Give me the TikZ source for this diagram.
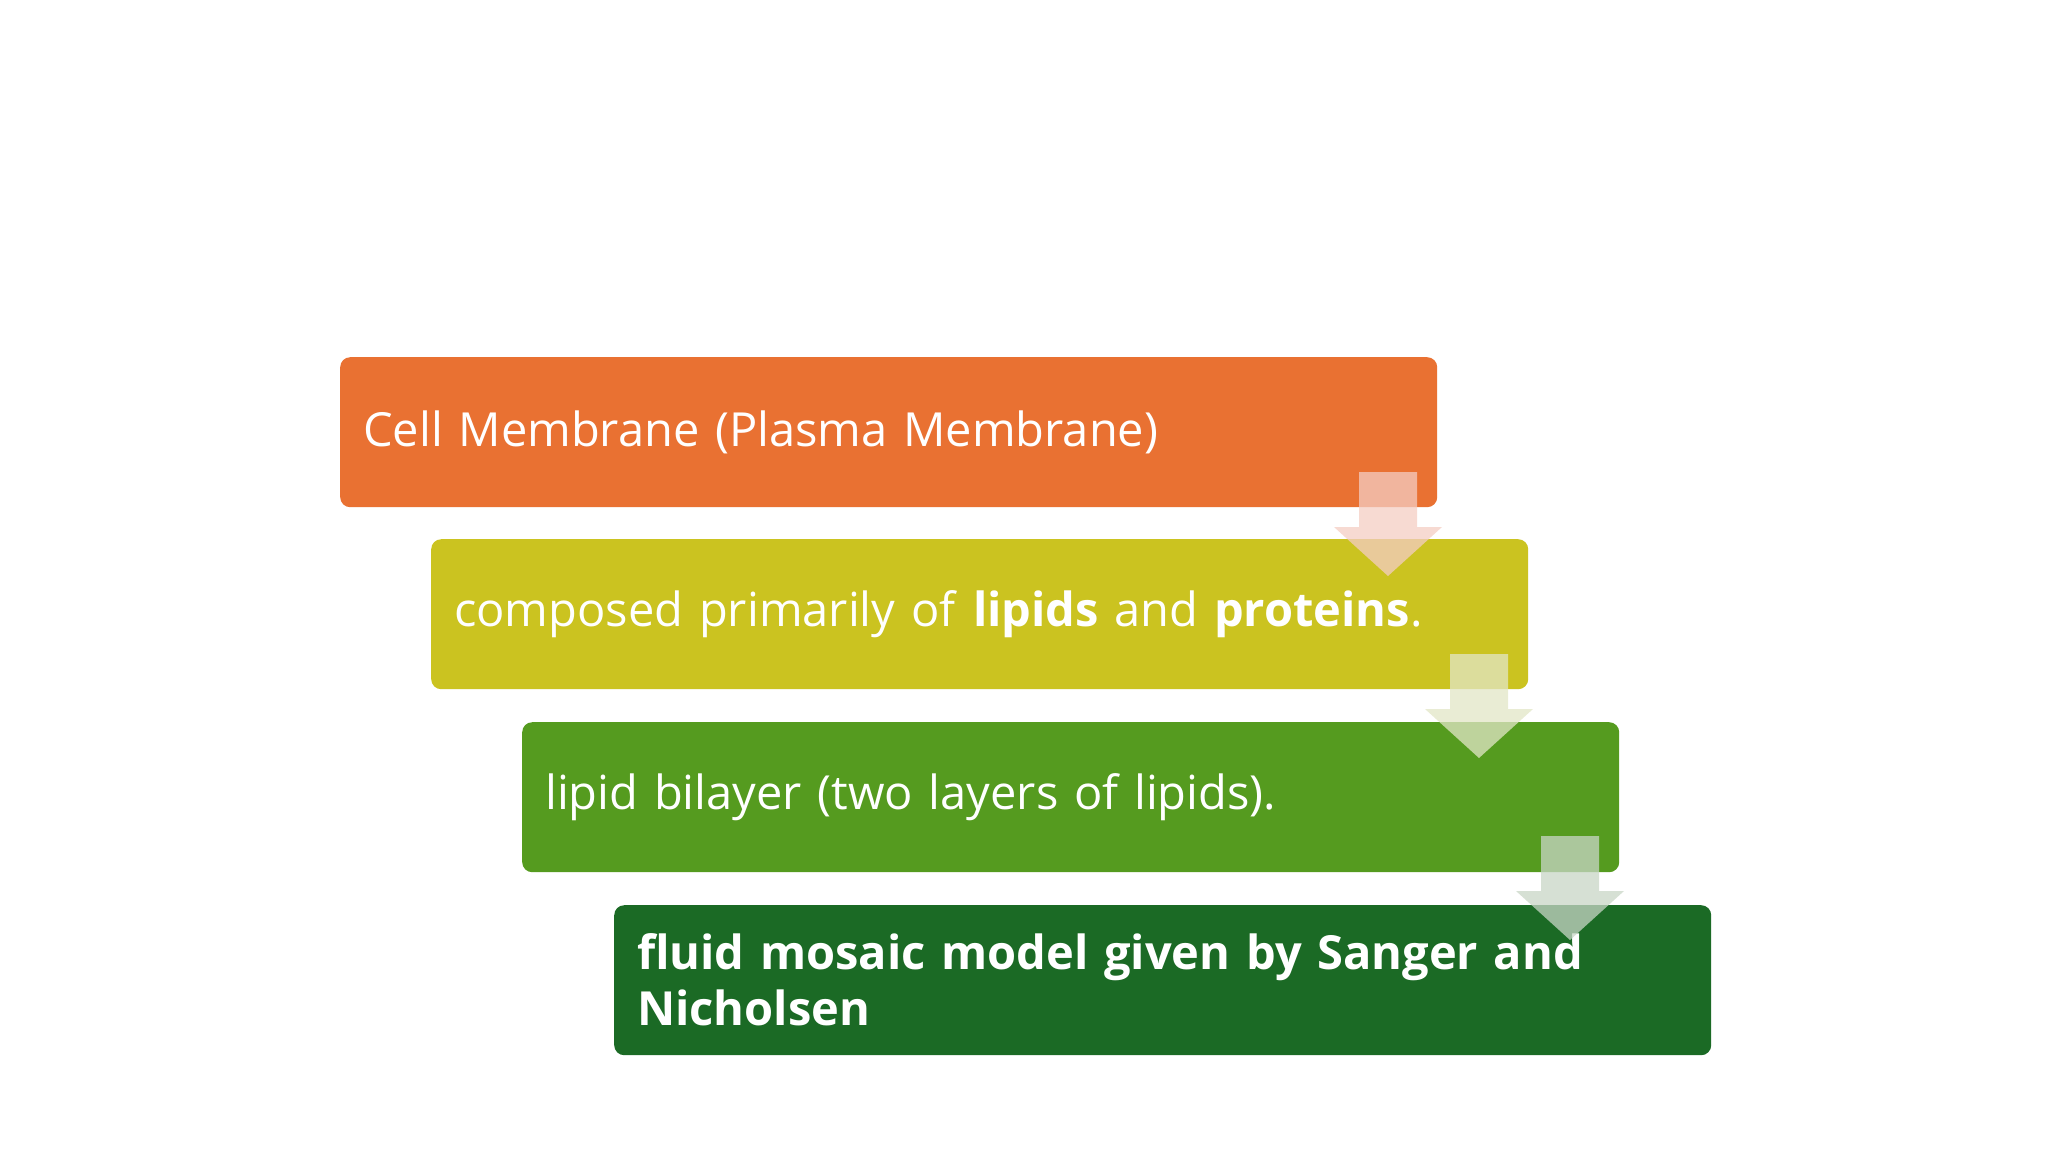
\documentclass[tikz,border=0pt]{standalone}
\usepackage{fontspec}
\setmainfont{Open Sans}
\begin{document}
\begin{tikzpicture}[x=1pt,y=-1pt,
  box/.style={draw=none,rounded corners=10pt,minimum width=1097pt,minimum height=150pt,
    text width=1051pt,align=left,inner xsep=23pt,text=white,
    font=\fontsize{47}{56}\selectfont,anchor=north west},
  arr/.style={fill opacity=0.75,draw=none}]
\useasboundingbox (0,0) rectangle (2048,1152);
\definecolor{c1}{HTML}{E97132}
\definecolor{c2}{HTML}{CBC320}
\definecolor{c3}{HTML}{559B1F}
\definecolor{c4}{HTML}{1B6A25}
\definecolor{a1}{HTML}{F4CDC3}
\definecolor{a2}{HTML}{E2E6C6}
\definecolor{a3}{HTML}{C8D6C6}
\node[box,fill=c1] (b1) at (340,357) {Cell Membrane (Plasma Membrane)};
\node[box,fill=c2] (b2) at (431,539) {composed primarily of \textbf{lipids} and \textbf{proteins}.};
\node[box,fill=c3] (b3) at (522,722) {lipid bilayer (two layers of lipids).};
\node[box,fill=c4,font=\fontsize{47}{56}\selectfont\bfseries] (b4) at (614,905) {fluid mosaic model given by Sanger and Nicholsen};
\foreach \i/\c in {0/a1,1/a2,2/a3}{
  \fill[arr,\c] (1359+91*\i,472+182*\i) -- (1417+91*\i,472+182*\i) -- (1417+91*\i,527+182*\i)
    -- (1442+91*\i,527+182*\i) -- (1388+91*\i,576+182*\i) -- (1334+91*\i,527+182*\i)
    -- (1359+91*\i,527+182*\i) -- cycle;
}
\end{tikzpicture}
\end{document}
